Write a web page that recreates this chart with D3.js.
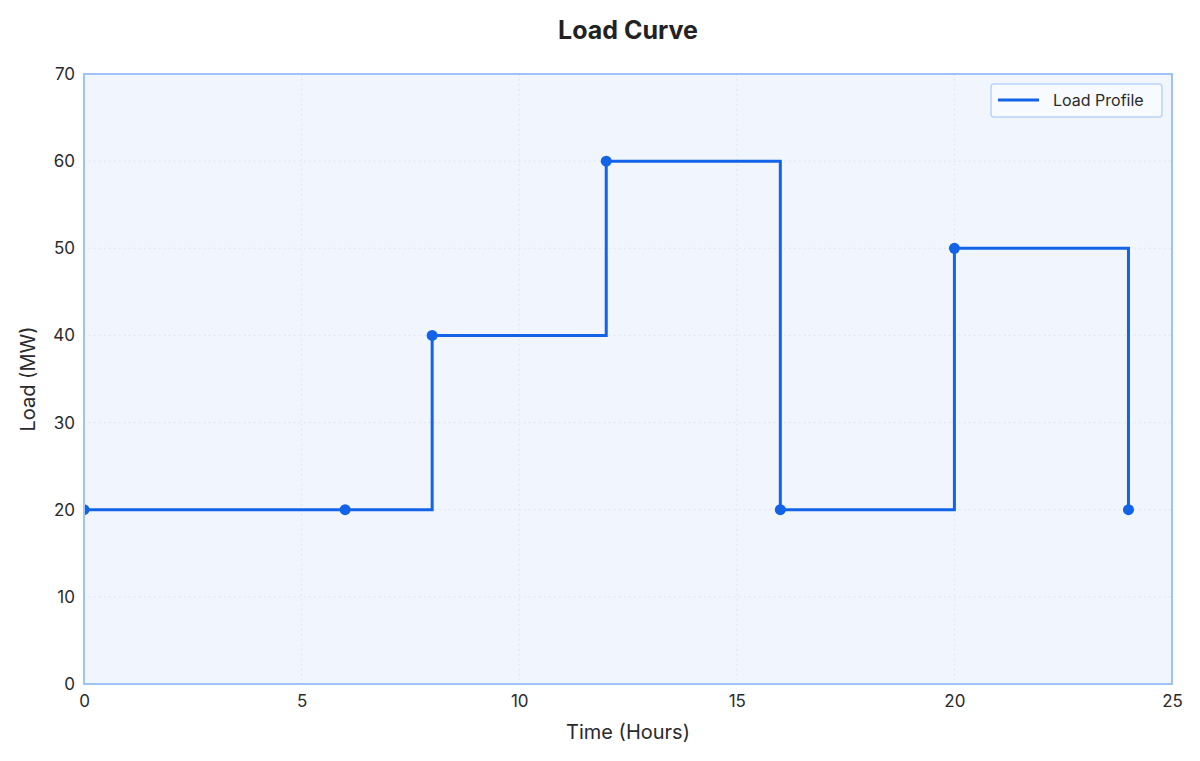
<!DOCTYPE html>
<html>
<head>
<meta charset="utf-8">
<script src="https://cdn.jsdelivr.net/npm/d3@7"></script>
<style>
  body { margin: 0; background: #fff; }
  svg { font-family: Inter, "Noto Sans", sans-serif; }
</style>
</head>
<body>
<svg id="chart" width="1200" height="761"></svg>
<script>
// Data
var hours = [0, 6, 8, 12, 16, 20, 24];
var loads = [20, 20, 40, 60, 20, 50, 20];
var xTicks = [0, 5, 10, 15, 20, 25];
var yTicks = [0, 10, 20, 30, 40, 50, 60, 70];
var seriesName = "Load Profile";

// Layout
var width = 1200, height = 761;
var margin = {top: 74, right: 28, bottom: 77, left: 84};
var plotW = width - margin.left - margin.right;
var plotH = height - margin.top - margin.bottom;
var lineColor = "#1363e8";

var svg = d3.select("#chart");

var x = d3.scaleLinear().domain([0, 25]).range([0, plotW]);
var y = d3.scaleLinear().domain([0, 70]).range([plotH, 0]);

var g = svg.append("g")
    .attr("transform", "translate(" + margin.left + "," + margin.top + ")");

// background
g.append("rect")
    .attr("width", plotW)
    .attr("height", plotH)
    .attr("fill", "#f1f6fe");

// grid
g.append("g").selectAll("line").data(yTicks.slice(1, -1)).enter().append("line")
    .attr("x1", 0).attr("x2", plotW)
    .attr("y1", function(d){ return y(d); })
    .attr("y2", function(d){ return y(d); })
    .attr("stroke", "#dce5f2").attr("stroke-width", 1.2)
    .attr("stroke-dasharray", "1.5,3.5");
g.append("g").selectAll("line").data(xTicks.slice(1, -1)).enter().append("line")
    .attr("y1", 0).attr("y2", plotH)
    .attr("x1", function(d){ return x(d); })
    .attr("x2", function(d){ return x(d); })
    .attr("stroke", "#dce5f2").attr("stroke-width", 1.2)
    .attr("stroke-dasharray", "1.5,3.5");

// clip
svg.append("defs").append("clipPath").attr("id", "clip")
    .append("rect").attr("width", plotW).attr("height", plotH);

var data = hours.map(function(h, i){ return {x: h, y: loads[i]}; });

var line = d3.line()
    .x(function(d){ return x(d.x); })
    .y(function(d){ return y(d.y); })
    .curve(d3.curveStepAfter);

var plot = g.append("g").attr("clip-path", "url(#clip)");

plot.append("path")
    .datum(data)
    .attr("d", line)
    .attr("fill", "none")
    .attr("stroke", lineColor)
    .attr("stroke-width", 3);

plot.selectAll("circle").data(data).enter().append("circle")
    .attr("cx", function(d){ return x(d.x); })
    .attr("cy", function(d){ return y(d.y); })
    .attr("r", 5.5)
    .attr("fill", lineColor);

// frame
g.append("rect")
    .attr("width", plotW)
    .attr("height", plotH)
    .attr("fill", "none")
    .attr("stroke", "#9fc2f7")
    .attr("stroke-width", 2);

// axes
var xAxis = g.append("g")
    .attr("transform", "translate(0," + plotH + ")")
    .call(d3.axisBottom(x).tickValues(xTicks).tickSize(0).tickPadding(11));
var yAxis = g.append("g")
    .call(d3.axisLeft(y).tickValues(yTicks).tickSize(0).tickPadding(9));
[xAxis, yAxis].forEach(function(a){
    a.select(".domain").remove();
    a.selectAll("text")
        .attr("fill", "#2a2a2a")
        .style("font-size", "17px")
        .style("font-family", "Inter, 'Noto Sans', sans-serif");
});

// labels
svg.append("text")
    .attr("x", margin.left + plotW / 2)
    .attr("y", 39)
    .attr("text-anchor", "middle")
    .attr("fill", "#222")
    .style("font-size", "25px")
    .style("font-weight", "bold")
    .text("Load Curve");

svg.append("text")
    .attr("x", margin.left + plotW / 2)
    .attr("y", 739)
    .attr("text-anchor", "middle")
    .attr("fill", "#2a2a2a")
    .style("font-size", "20px")
    .text("Time (Hours)");

svg.append("text")
    .attr("transform", "translate(35," + (margin.top + plotH / 2) + ") rotate(-90)")
    .attr("text-anchor", "middle")
    .attr("fill", "#2a2a2a")
    .style("font-size", "20px")
    .text("Load (MW)");

// legend
var leg = g.append("g").attr("transform", "translate(" + (plotW - 181) + ",10)");
leg.append("rect")
    .attr("width", 171).attr("height", 33).attr("rx", 3)
    .attr("fill", "#f7faff")
    .attr("stroke", "#b9d3f8").attr("stroke-width", 1.5);
leg.append("line")
    .attr("x1", 7).attr("x2", 48).attr("y1", 16).attr("y2", 16)
    .attr("stroke", lineColor).attr("stroke-width", 3);
leg.append("text")
    .attr("x", 62).attr("y", 22)
    .attr("fill", "#2a2a2a")
    .style("font-size", "16px")
    .text(seriesName);
</script>
</body>
</html>
